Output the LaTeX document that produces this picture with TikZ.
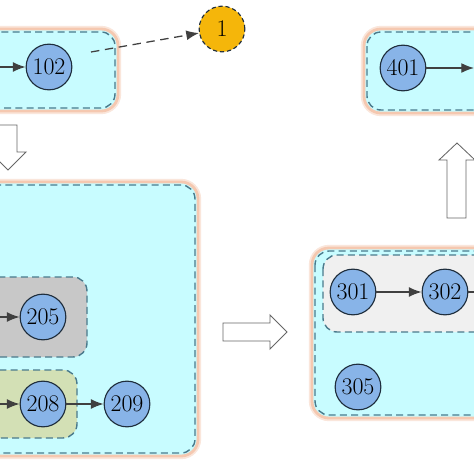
\documentclass[tikz,border=0pt]{standalone}
\usetikzlibrary{arrows.meta}
\definecolor{boxcyan}{RGB}{200,252,255}
\definecolor{boxedge}{RGB}{74,122,140}
\definecolor{glow}{RGB}{245,200,176}
\definecolor{nodeblue}{RGB}{136,180,232}
\definecolor{nodeedge}{RGB}{30,45,60}
\definecolor{tokenyellow}{RGB}{245,182,10}
\definecolor{grayzone}{RGB}{200,200,200}
\definecolor{greenzone}{RGB}{211,224,181}
\definecolor{lightzone}{RGB}{240,240,240}
\tikzset{
  state/.style={circle, draw=nodeedge, fill=nodeblue, line width=0.8pt, minimum size=32.5pt, inner sep=0pt, font=\fontsize{17}{19}\selectfont},
  token/.style={state, fill=tokenyellow, dash pattern=on 3pt off 2pt},
  flow/.style={draw=black!75, line width=0.9pt, -{Latex[length=9pt,width=7pt]}},
  zone/.style={draw=boxedge, line width=1pt, dash pattern=on 5pt off 3pt, rounded corners=10pt},
  halo/.style={draw=glow, line width=2pt, fill=boxcyan, rounded corners=12pt,
    preaction={draw=glow, draw opacity=0.45, line width=4.5pt}},
  bigarrow/.style={draw=black!60, fill=white, line width=0.6pt},
}
\begin{document}
\begin{tikzpicture}[x=0.025cm, y=-0.025cm]
            \clip (0,0) rectangle (474,474);
            \fill[white] (0,0) rectangle (474,474);

            \draw[halo] (-30,29) rectangle (118,111);
            \draw[zone] (-30,32) rectangle (115,108);
            \draw[halo] (-30,182) rectangle (198,456);
            \draw[zone] (-30,185) rectangle (195,453);
            \draw[halo] (312,248) rectangle (520,418);
            \draw[zone] (315,251) rectangle (520,415);
            \draw[halo] (364,29) rectangle (520,113);
            \draw[zone] (367,32) rectangle (520,110);

            \draw[zone, fill=grayzone] (-30,277) rectangle (87,357);
            \draw[zone, fill=greenzone] (-30,370) rectangle (77,438);
            \draw[zone, fill=lightzone] (323,255) rectangle (520,332);

            \node[state] (n102) at (49,67) {102};
            \node[token] (n1) at (222,29) {1};
            \node[state] (n205) at (43,317) {205};
            \node[state] (n208) at (43,404) {208};
            \node[state] (n209) at (127,404) {209};
            \node[state] (n301) at (353,292) {301};
            \node[state] (n302) at (445,292) {302};
            \node[state] (n305) at (358,387) {305};
            \node[state] (n401) at (403,68) {401};

            \coordinate (in102) at (-20,67);
            \coordinate (in205) at (-20,317);
            \coordinate (in208) at (-20,404);
            \coordinate (out302) at (520,292);
            \coordinate (out401) at (474,68);
            \coordinate (src1) at (91,52);

            \draw[flow] (in102) -- (n102);
            \draw[flow, dash pattern=on 6pt off 4pt] (src1) -- (n1);
            \draw[flow] (in205) -- (n205);
            \draw[flow] (in208) -- (n208);
            \draw[flow] (n208) -- (n209);
            \draw[flow] (n301) -- (n302);
            \draw[flow] (n302) -- (out302);
            \draw[flow] (n401) -- (out401);

            \draw[bigarrow] (-1,125) -- (17,125) -- (17,152) -- (26,152) -- (8,170) -- (-10,152) -- (-1,152) -- cycle;
            \draw[bigarrow] (223,323) -- (270,323) -- (270,315) -- (287,332) -- (270,349) -- (270,341) -- (223,341) -- cycle;
            \draw[bigarrow] (447,218) -- (447,160) -- (439,160) -- (457,143) -- (475,160) -- (466,160) -- (466,218) -- cycle;
\end{tikzpicture}
\end{document}
